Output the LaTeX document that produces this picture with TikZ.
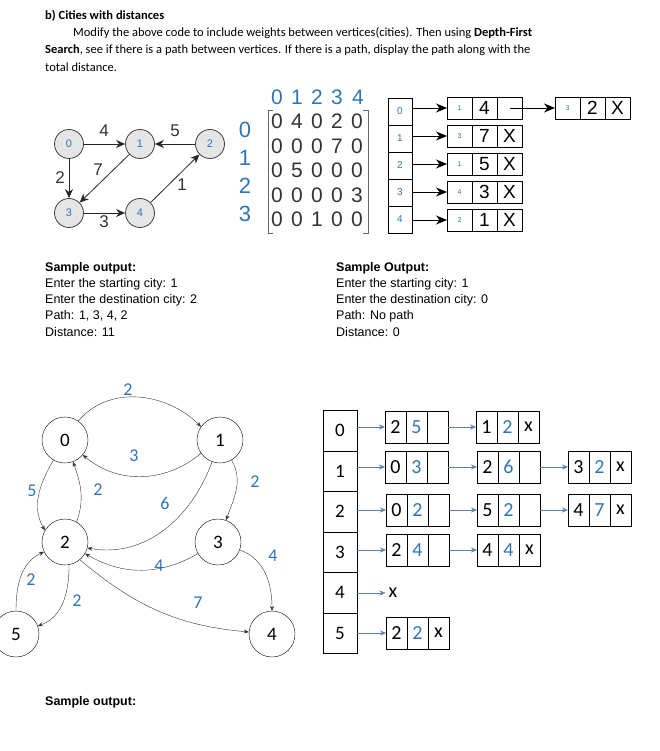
\documentclass[tikz,border=0pt]{standalone}
\usepackage{fontspec}
\setmainfont{Carlito}
\newfontfamily\arialf{Liberation Sans}
\usetikzlibrary{arrows.meta,positioning}
\definecolor{lblue}{HTML}{2E75B6}
\definecolor{agray}{HTML}{5B7FA6}
\tikzset{
 tg/.style={circle,draw=black!75,thick,fill=black!10,minimum size=29pt,inner sep=0,font=\arialf\fontsize{11}{11}\selectfont,text=lblue},
 te/.style={-{Stealth[length=9pt,width=8pt]},thick,black!85},
 tl/.style={font=\arialf\fontsize{17}{17}\selectfont,text=black!80},
 bg/.style={circle,draw,minimum size=46pt,inner sep=0,font=\fontsize{19}{19}\selectfont},
 be/.style={-{Stealth[length=5pt,width=4pt]},black!80},
 bl/.style={font=\fontsize{18}{18}\selectfont,text=lblue},
 ic/.style={draw,thick,minimum width=24pt,minimum height=27pt,inner sep=0,outer sep=0,font=\arialf\fontsize{10}{10}\selectfont,text=lblue},
 sc/.style={draw,thick,minimum width=25pt,minimum height=22pt,inner sep=0,outer sep=0,font=\arialf\fontsize{19}{19}\selectfont},
 si/.style={sc,font=\arialf\fontsize{7}{7}\selectfont,text=lblue},
 ta/.style={-{Stealth[length=11pt,width=9pt]},thick},
 bc/.style={draw,minimum width=34pt,minimum height=40.5pt,inner sep=0,outer sep=0,font=\fontsize{19}{19}\selectfont},
 nc/.style={draw,minimum width=21pt,minimum height=32pt,inner sep=0,outer sep=0,font=\fontsize{20}{20}\selectfont},
 ba/.style={-{Stealth[length=6pt,width=5pt]},agray},
 txt/.style={anchor=west,inner sep=0,font=\fontsize{12.5}{15}\selectfont},
 smp/.style={anchor=west,inner sep=0,font=\arialf\fontsize{12.5}{15}\selectfont},
 me/.style={inner sep=0,font=\arialf\fontsize{21}{21}\selectfont,text=black!80},
 mh/.style={inner sep=0,font=\arialf\fontsize{21}{21}\selectfont,text=lblue},
}
\begin{document}
\begin{tikzpicture}[x=1pt,y=-1pt]
\useasboundingbox (0,0) rectangle (660,751);
% header text
\node[txt] (h1) at (45,16) {\textbf{b) Cities with distances}};
\node[txt] (h2) at (73,33) {Modify the above code to include weights between vertices(cities). Then using \textbf{Depth-First}};
\node[txt] (h3) at (45,50) {\textbf{Search}, see if there is a path between vertices. If there is a path, display the path along with the};
\node[txt] (h4) at (45,67) {total distance.};
% top graph
\node[tg] (a0) at (69,144) {0};
\node[tg] (a1) at (140,144) {1};
\node[tg] (a2) at (210,144) {2};
\node[tg] (a3) at (69,213) {3};
\node[tg] (a4) at (140,213) {4};
\draw[te] (a0) -- (a1);
\draw[te] (a2) -- (a1);
\draw[te] (a0) -- (a3);
\draw[te] (a1) -- (a3);
\draw[te] (a3) -- (a4);
\draw[te] (a4) -- (a2);
\node[tl] (w1) at (104,131) {4};
\node[tl] (w2) at (175,131) {5};
\node[tl] (w3) at (60,178) {2};
\node[tl] (w4) at (98,170) {7};
\node[tl] (w5) at (182,185) {1};
\node[tl] (w6) at (104,222) {3};
% matrix
\foreach \c/\x in {0/277,1/297,2/317,3/337,4/358}{\node[mh] (mh\c) at (\x,97) {\c};}
\foreach \r/\y in {0/130,1/158,2/186,3/214}{\node[mh,font=\arialf\fontsize{22}{22}\selectfont] (mr\r) at (245,\y) {\r};}
\foreach \row [count=\ri] in {{0,4,0,2,0},{0,0,0,7,0},{0,5,0,0,0},{0,0,0,0,3},{0,0,1,0,0}}{
 \foreach \v [count=\ci] in \row {\node[me] (m\ri-\ci) at (257+20*\ci,97+24.5*\ri) {\v};}}
\draw[black!60] (273,110) -- (268,110) -- (268,233) -- (273,233);
\draw[black!60] (363,110) -- (368,110) -- (368,233) -- (363,233);
% top lists
\foreach \i in {0,...,4}{\node[ic] (ti\i) at (400,111.5+27*\i) {\i};}
\node[si] (p0a) at (459.5,108) {1};
\node[sc,right=0pt of p0a] (p0b) {4};
\node[sc,right=0pt of p0b] (p0c) {};
\node[si] (q0a) at (567.5,108) {3};
\node[sc,right=0pt of q0a] (q0b) {2};
\node[sc,right=0pt of q0b] (q0c) {X};
\draw[ta] (ti0.east |- p0a) -- (p0a.west);
\draw[ta] (p0c.center) -- (q0a.west);
\foreach \i/\a/\v in {1/3/7,2/1/5,3/4/3,4/2/1}{
 \node[si] (p\i a) at (459.5,108+28*\i) {\a};
 \node[sc,right=0pt of p\i a] (p\i b) {\v};
 \node[sc,right=0pt of p\i b] (p\i c) {X};
 \draw[ta] (ti\i.east |- p\i a) -- (p\i a.west);
}
% sample outputs
\node[smp,font=\arialf\bfseries\fontsize{12.5}{15}\selectfont] (s1) at (45,268) {Sample output:};
\node[smp] (s2) at (45,284) {Enter the starting city: 1};
\node[smp] (s3) at (45,300) {Enter the destination city: 2};
\node[smp] (s4) at (45,316) {Path: 1, 3, 4, 2};
\node[smp] (s5) at (45,332) {Distance: 11};
\node[smp,font=\arialf\bfseries\fontsize{12.5}{15}\selectfont] (r1) at (336,268) {Sample Output:};
\node[smp] (r2) at (336,284) {Enter the starting city: 1};
\node[smp] (r3) at (336,300) {Enter the destination city: 0};
\node[smp] (r4) at (336,316) {Path: No path};
\node[smp] (r5) at (336,332) {Distance: 0};
% bottom graph
\node[bg] (b0) at (65,440) {0};
\node[bg] (b1) at (220,440) {1};
\node[bg] (b2) at (65,542) {2};
\node[bg] (b3) at (218,542) {3};
\node[bg] (b4) at (272,634) {4};
\node[bg] (b5) at (16,634) {5};
\draw[be] (b0.55) to[out=50,in=135] (b1.145);
\draw[be] (b1.215) to[out=220,in=-40] (b0.-40);
\draw[be] (b0.240) to[out=240,in=120] (b2.150);
\draw[be] (b2.60) to[out=70,in=-70] (b0.-70);
\draw[be] (b1.250) to[out=250,in=-10] (b2.-15);
\draw[be] (b1.-60) to[out=-60,in=70] (b3.70);
\draw[be] (b3.210) to[out=210,in=-30] (b2.-30);
\draw[be] (b3.-20) to[out=-20,in=90] (b4.90);
\draw[be] (b2.-50) to[out=-40,in=175] (b4.175);
\draw[be] (b5.90) to[out=90,in=205] (b2.205);
\draw[be] (b2.-80) to[out=-90,in=20] (b5.20);
\node[bl] (c1) at (128,390) {2};
\node[bl] (c2) at (134,456) {3};
\node[bl] (c3) at (32,491) {5};
\node[bl] (c4) at (98,490) {2};
\node[bl] (c5) at (165,503) {6};
\node[bl] (c6) at (255,482) {2};
\node[bl] (c7) at (159,566) {4};
\node[bl] (c8) at (273,556) {4};
\node[bl] (c9) at (198,603) {7};
\node[bl] (c10) at (31,580) {2};
\node[bl] (c11) at (77,601) {2};
% bottom lists
\foreach \i in {0,...,5}{\node[bc] (bi\i) at (340,430.5+40.5*\i) {\i};}
\newcommand\lnd[6]{%
 \node[nc] (#1a) at (#2,#3) {#4};
 \node[nc,right=0pt of #1a,text=lblue] (#1b) {#5};
 \node[nc,right=0pt of #1b] (#1c) {#6};}
\lnd{m00}{395.5}{427}{2}{5}{}
\lnd{m01}{486.5}{427}{1}{2}{x}
\lnd{m10}{395.5}{467}{0}{3}{}
\lnd{m11}{487.5}{467}{2}{6}{}
\lnd{m12}{578.5}{467}{3}{2}{x}
\lnd{m20}{396.5}{510}{0}{2}{}
\lnd{m21}{487.5}{510}{5}{2}{}
\lnd{m22}{578.5}{510}{4}{7}{x}
\lnd{m30}{396.5}{550}{2}{4}{}
\lnd{m31}{487.5}{550}{4}{4}{x}
\lnd{m50}{396.5}{633}{2}{2}{x}
\node[inner sep=0,font=\fontsize{20}{20}\selectfont] (x4) at (393,593) {x};
\draw[ba] (bi0.east |- m00a) -- (m00a.west);
\draw[ba] (m00c.east) -- (m01a.west);
\draw[ba] (bi1.east |- m10a) -- (m10a.west);
\draw[ba] (m10c.east) -- (m11a.west);
\draw[ba] (m11c.east) -- (m12a.west);
\draw[ba] (bi2.east |- m20a) -- (m20a.west);
\draw[ba] (m20c.east) -- (m21a.west);
\draw[ba] (m21c.east) -- (m22a.west);
\draw[ba] (bi3.east |- m30a) -- (m30a.west);
\draw[ba] (m30c.east) -- (m31a.west);
\draw[ba] (bi4.east |- x4) -- ([xshift=-3pt]x4.west);
\draw[ba] (bi5.east |- m50a) -- (m50a.west);
\node[smp,font=\arialf\bfseries\fontsize{12.5}{15}\selectfont] (so) at (45,702) {Sample output:};
\end{tikzpicture}
\end{document}
